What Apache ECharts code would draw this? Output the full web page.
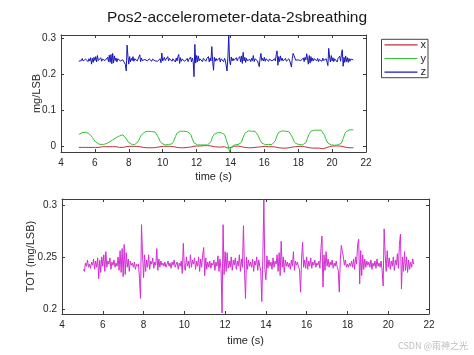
<!DOCTYPE html>
<html><head><meta charset="utf-8">
<script src="https://cdn.jsdelivr.net/npm/echarts@6/dist/echarts.min.js"></script>
<style>html,body{margin:0;padding:0;background:#fff}#c{width:474px;height:355px}</style>
</head><body><div id="c"></div>
<script>
const titleText = 'Pos2-accelerometer-data-2sbreathing';
const seriesNames = ['x', 'y', 'z'];
const totName = 'TOT';
const xLabel = 'time (s)';
const topYLabel = 'mg/LSB';
const botYLabel = 'TOT (mg/LSB)';
const watermark = 'CSDN @雨神之光';
const timeTicks = [4, 6, 8, 10, 12, 14, 16, 18, 20, 22];
const topYTicks = [0, 0.1, 0.2, 0.3];
const botYTicks = [0.2, 0.25, 0.3];

// sample timing (seconds)
const fastStart = 5.05, fastStep = 0.05;   // z and TOT
const slowStart = 5.05, slowStep = 0.1;    // x and y

const accX = [
-0.004,-0.003,-0.004,-0.005,-0.004,-0.003,-0.004,-0.005,-0.004,-0.003,
-0.004,-0.003,-0.004,-0.003,-0.002,-0.003,-0.002,-0.003,-0.002,-0.003,
-0.002,-0.003,-0.002,-0.003,-0.004,-0.003,-0.004,-0.003,-0.002,-0.001,
-0.001,0.000,-0.001,0.000,-0.001,-0.001,-0.002,-0.003,-0.004,-0.005,
-0.005,-0.006,-0.005,-0.006,-0.005,-0.004,-0.004,-0.003,-0.002,-0.001,
-0.001,0.000,-0.001,0.000,-0.001,-0.001,-0.002,-0.003,-0.004,-0.004,
-0.005,-0.004,-0.005,-0.004,-0.004,-0.003,-0.003,-0.002,-0.001,-0.001,
0.000,0.001,0.000,0.001,0.001,0.000,0.001,0.000,0.000,-0.001,
-0.002,-0.002,-0.003,-0.002,-0.003,-0.002,-0.002,-0.003,-0.006,-0.010,
-0.004,-0.002,-0.001,-0.001,0.000,-0.001,-0.002,-0.003,-0.004,-0.005,
-0.005,-0.006,-0.005,-0.005,-0.004,-0.003,-0.003,-0.002,-0.002,-0.001,
-0.001,-0.001,-0.002,-0.001,-0.002,-0.002,-0.003,-0.004,-0.005,-0.005,
-0.006,-0.005,-0.006,-0.005,-0.005,-0.004,-0.003,-0.003,-0.002,-0.002,
-0.001,-0.002,-0.001,-0.002,-0.003,-0.004,-0.005,-0.006,-0.006,-0.007,
-0.006,-0.007,-0.006,-0.007,-0.008,-0.007,-0.005,-0.003,-0.002,-0.001,
0.000,-0.001,0.000,0.001,0.000,-0.001,-0.002,-0.003,-0.004,-0.005,
-0.005,-0.006,-0.005
];

const accY = [
0.032,0.035,0.037,0.037,0.038,0.036,0.035,0.030,0.024,0.017,
0.011,0.007,0.005,0.004,0.004,0.005,0.006,0.008,0.011,0.014,
0.017,0.020,0.023,0.026,0.028,0.030,0.031,0.028,0.020,0.012,
0.007,0.005,0.004,0.004,0.006,0.012,0.022,0.031,0.036,0.039,
0.040,0.041,0.041,0.040,0.041,0.039,0.034,0.024,0.013,0.007,
0.004,0.003,0.003,0.004,0.004,0.006,0.013,0.026,0.036,0.040,
0.041,0.042,0.041,0.041,0.040,0.039,0.033,0.020,0.009,0.004,
0.003,0.002,0.003,0.002,0.003,0.004,0.003,0.005,0.012,0.026,
0.033,0.036,0.037,0.036,0.037,0.035,0.032,0.018,0.004,-0.016,
-0.003,0.002,0.003,0.004,0.004,0.005,0.010,0.024,0.035,0.040,
0.042,0.042,0.041,0.042,0.041,0.038,0.028,0.016,0.008,0.005,
0.004,0.003,0.004,0.003,0.004,0.006,0.015,0.029,0.038,0.041,
0.042,0.042,0.041,0.042,0.040,0.036,0.025,0.013,0.007,0.005,
0.004,0.004,0.003,0.005,0.009,0.022,0.034,0.041,0.043,0.044,
0.044,0.044,0.043,0.044,0.040,0.030,0.017,0.008,0.004,0.003,
0.003,0.002,0.003,0.003,0.004,0.008,0.020,0.034,0.041,0.044,
0.045,0.046,0.045
];

const accZ = [
0.236,0.234,0.241,0.238,0.244,0.237,0.240,0.236,0.242,0.239,0.245,0.235,0.243,0.237,0.246,0.228,0.244,0.233,0.247,0.238,
0.249,0.234,0.252,0.238,0.243,0.240,0.246,0.236,0.242,0.239,0.244,0.238,0.241,0.239,0.247,0.235,0.253,0.233,0.255,0.229,
0.258,0.231,0.251,0.238,0.245,0.234,0.243,0.239,0.241,0.237,0.242,0.236,0.240,0.238,0.240,0.227,0.209,0.281,0.250,0.228,
0.249,0.234,0.244,0.238,0.249,0.236,0.243,0.240,0.246,0.237,0.242,0.239,0.254,0.235,0.245,0.238,0.243,0.240,0.241,0.238,
0.242,0.237,0.240,0.243,0.238,0.241,0.236,0.242,0.239,0.244,0.237,0.240,0.242,0.236,0.241,0.238,0.243,0.232,0.259,0.237,
0.235,0.247,0.238,0.243,0.236,0.249,0.237,0.244,0.240,0.246,0.236,0.243,0.238,0.247,0.234,0.245,0.237,0.249,0.255,0.230,
0.246,0.236,0.242,0.237,0.243,0.236,0.241,0.239,0.244,0.235,0.242,0.238,0.248,0.234,0.245,0.236,0.193,0.283,0.231,0.252,
0.234,0.251,0.237,0.243,0.238,0.247,0.235,0.244,0.239,0.246,0.236,0.243,0.238,0.249,0.234,0.245,0.237,0.277,0.236,0.211,
0.247,0.236,0.244,0.238,0.242,0.237,0.245,0.234,0.243,0.239,0.247,0.235,0.244,0.238,0.234,0.209,0.248,0.309,0.236,0.226,
0.248,0.237,0.244,0.238,0.242,0.236,0.246,0.237,0.243,0.240,0.249,0.234,0.251,0.230,0.261,0.237,0.247,0.233,0.244,0.238,
0.242,0.237,0.241,0.235,0.244,0.238,0.252,0.235,0.243,0.239,0.242,0.237,0.236,0.221,0.245,0.258,0.238,0.244,0.237,0.247,
0.236,0.243,0.238,0.246,0.236,0.242,0.239,0.244,0.237,0.241,0.239,0.243,0.237,0.254,0.265,0.225,0.249,0.235,0.251,0.238,
0.245,0.237,0.242,0.239,0.244,0.236,0.241,0.238,0.243,0.237,0.235,0.220,0.244,0.258,0.252,0.247,0.239,0.244,0.237,0.240,
0.237,0.241,0.238,0.243,0.237,0.245,0.235,0.247,0.240,0.257,0.262,0.228,0.252,0.231,0.249,0.236,0.245,0.237,0.243,0.239,
0.242,0.237,0.244,0.235,0.241,0.238,0.243,0.236,0.245,0.238,0.241,0.237,0.243,0.234,0.224,0.272,0.248,0.234,0.252,0.237,
0.246,0.235,0.243,0.238,0.247,0.234,0.244,0.239,0.250,0.236,0.257,0.268,0.222,0.247,0.233,0.251,0.235,0.246,0.233,0.244,
0.236,0.242,0.237,0.245,0.240
];

const tot = [
0.238,0.236,0.244,0.241,0.247,0.240,0.243,0.239,0.245,0.242,0.248,0.238,0.246,0.240,0.249,0.229,0.247,0.235,0.250,0.241,
0.252,0.236,0.255,0.240,0.246,0.243,0.249,0.238,0.245,0.242,0.247,0.240,0.244,0.241,0.250,0.237,0.256,0.235,0.258,0.231,
0.262,0.233,0.254,0.240,0.248,0.236,0.246,0.242,0.244,0.240,0.245,0.238,0.243,0.241,0.243,0.229,0.210,0.281,0.252,0.230,
0.252,0.236,0.247,0.240,0.252,0.238,0.246,0.243,0.249,0.239,0.245,0.242,0.258,0.237,0.248,0.240,0.246,0.242,0.244,0.241,
0.245,0.240,0.243,0.246,0.241,0.244,0.239,0.245,0.242,0.247,0.240,0.243,0.245,0.238,0.244,0.241,0.246,0.234,0.263,0.240,
0.237,0.250,0.241,0.246,0.239,0.252,0.240,0.247,0.243,0.249,0.238,0.246,0.241,0.250,0.236,0.248,0.240,0.252,0.259,0.232,
0.249,0.238,0.245,0.240,0.246,0.239,0.244,0.242,0.247,0.237,0.245,0.241,0.251,0.236,0.248,0.238,0.196,0.281,0.233,0.255,
0.236,0.254,0.239,0.246,0.240,0.250,0.237,0.247,0.242,0.249,0.238,0.246,0.241,0.252,0.236,0.248,0.240,0.280,0.238,0.210,
0.250,0.238,0.247,0.241,0.245,0.240,0.248,0.236,0.246,0.242,0.250,0.237,0.247,0.241,0.236,0.207,0.250,0.305,0.238,0.228,
0.251,0.239,0.247,0.241,0.245,0.238,0.249,0.240,0.246,0.243,0.252,0.236,0.254,0.232,0.265,0.240,0.250,0.235,0.247,0.241,
0.245,0.240,0.244,0.238,0.247,0.241,0.255,0.237,0.246,0.242,0.245,0.240,0.238,0.216,0.248,0.264,0.240,0.247,0.239,0.250,
0.238,0.246,0.241,0.249,0.239,0.245,0.242,0.247,0.240,0.244,0.242,0.246,0.239,0.258,0.270,0.221,0.252,0.237,0.255,0.241,
0.248,0.240,0.245,0.242,0.247,0.239,0.244,0.241,0.246,0.240,0.237,0.216,0.247,0.261,0.255,0.250,0.242,0.247,0.240,0.243,
0.240,0.244,0.241,0.246,0.240,0.248,0.238,0.250,0.243,0.262,0.267,0.224,0.256,0.232,0.252,0.238,0.248,0.240,0.246,0.242,
0.245,0.240,0.247,0.238,0.244,0.241,0.246,0.239,0.248,0.241,0.244,0.240,0.246,0.237,0.222,0.277,0.252,0.236,0.256,0.240,
0.249,0.238,0.246,0.241,0.250,0.237,0.247,0.242,0.253,0.239,0.262,0.272,0.219,0.250,0.236,0.255,0.237,0.250,0.235,0.247,
0.238,0.245,0.240,0.248,0.243
];

const colors = { x: '#c0303a', y: '#33c233', z: '#1818b8', tot: '#d22ed2' };

function timed(start, step, arr) {
  return arr.map((v, i) => [Math.round((start + i * step) * 1000) / 1000, v]);
}

const font = 'Liberation Sans, Arial, Helvetica, sans-serif';
const axisLineStyle = { color: '#3c3c3c', width: 1 };
const tickLabel = { fontFamily: font, fontSize: 10, color: '#262626' };
const nameStyle = { fontFamily: font, fontSize: 11, color: '#262626' };

function xAx(grid, pos, showLabel, gap) {
  return {
    type: 'value', gridIndex: grid, position: pos,
    min: timeTicks[0], max: timeTicks[timeTicks.length - 1], interval: 2,
    axisLine: { show: true, onZero: false, lineStyle: axisLineStyle },
    axisTick: { show: true, inside: true, length: 3, lineStyle: axisLineStyle },
    axisLabel: { show: showLabel, margin: 6, ...tickLabel },
    splitLine: { show: false },
    name: showLabel ? xLabel : '', nameLocation: 'middle', nameGap: gap || 19, nameTextStyle: nameStyle
  };
}
function yAx(grid, pos, showLabel, min, max, ticks, name, gap) {
  return {
    type: 'value', gridIndex: grid, position: pos, min: min, max: max,
    axisLine: { show: true, onZero: false, lineStyle: axisLineStyle },
    axisTick: { show: true, inside: true, length: 3, lineStyle: axisLineStyle, customValues: ticks },
    axisLabel: { show: showLabel, margin: 5, customValues: ticks, ...tickLabel },
    splitLine: { show: false },
    name: showLabel ? name : '', nameLocation: 'middle', nameGap: gap, nameRotate: 90,
    nameMoveOverlap: false, nameTextStyle: nameStyle
  };
}

const lineBase = { type: 'line', symbol: 'none', showSymbol: false, animation: false, lineStyle: { width: 1 } };

const chart = echarts.init(document.getElementById('c'), null, { renderer: 'canvas' });
chart.setOption({
  animation: false,
  backgroundColor: '#ffffff',
  title: {
    text: titleText, left: 'center', top: 10, padding: 0,
    textStyle: { fontFamily: font, fontSize: 15.5, fontWeight: 'normal', color: '#1a1a1a' }
  },
  grid: [
    { left: 61, top: 35, width: 305, height: 117 },
    { left: 62, top: 199, width: 367, height: 115 }
  ],
  xAxis: [xAx(0, 'bottom', true, 19), xAx(0, 'top', false), xAx(1, 'bottom', true, 21), xAx(1, 'top', false)],
  yAxis: [
    yAx(0, 'left', true, -0.0168, 0.3092, topYTicks, topYLabel, 19),
    yAx(0, 'right', false, -0.0168, 0.3092, topYTicks, '', 0),
    yAx(1, 'left', true, 0.195, 0.3057, botYTicks, botYLabel, 26),
    yAx(1, 'right', false, 0.195, 0.3057, botYTicks, '', 0)
  ],
  legend: {
    data: seriesNames, orient: 'vertical', left: 381.5, top: 39.3,
    icon: 'rect', itemStyle: { borderWidth: 0 },
    padding: [0, 2, 0, 3], itemGap: 2.7, itemWidth: 33, itemHeight: 1.2,
    borderColor: '#444', borderWidth: 1, backgroundColor: '#fff',
    textStyle: { fontFamily: font, fontSize: 11, color: '#262626', lineHeight: 10, padding: [0, 0, 0, -2] }
  },
  graphic: [{
    type: 'text', right: 6, top: 341,
    style: { text: watermark, fill: '#bdbdbd', fontSize: 9, fontFamily: 'Noto Sans CJK SC, sans-serif' }
  }],
  series: [
    { ...lineBase, name: seriesNames[0], xAxisIndex: 0, yAxisIndex: 0, color: colors.x, data: timed(slowStart, slowStep, accX), z: 3 },
    { ...lineBase, name: seriesNames[1], xAxisIndex: 0, yAxisIndex: 0, color: colors.y, data: timed(slowStart, slowStep, accY), z: 4 },
    { ...lineBase, name: seriesNames[2], xAxisIndex: 0, yAxisIndex: 0, color: colors.z, data: timed(fastStart, fastStep, accZ), z: 5 },
    { ...lineBase, name: totName, xAxisIndex: 2, yAxisIndex: 2, color: colors.tot, data: timed(fastStart, fastStep, tot) }
  ]
});
</script>
</body></html>
